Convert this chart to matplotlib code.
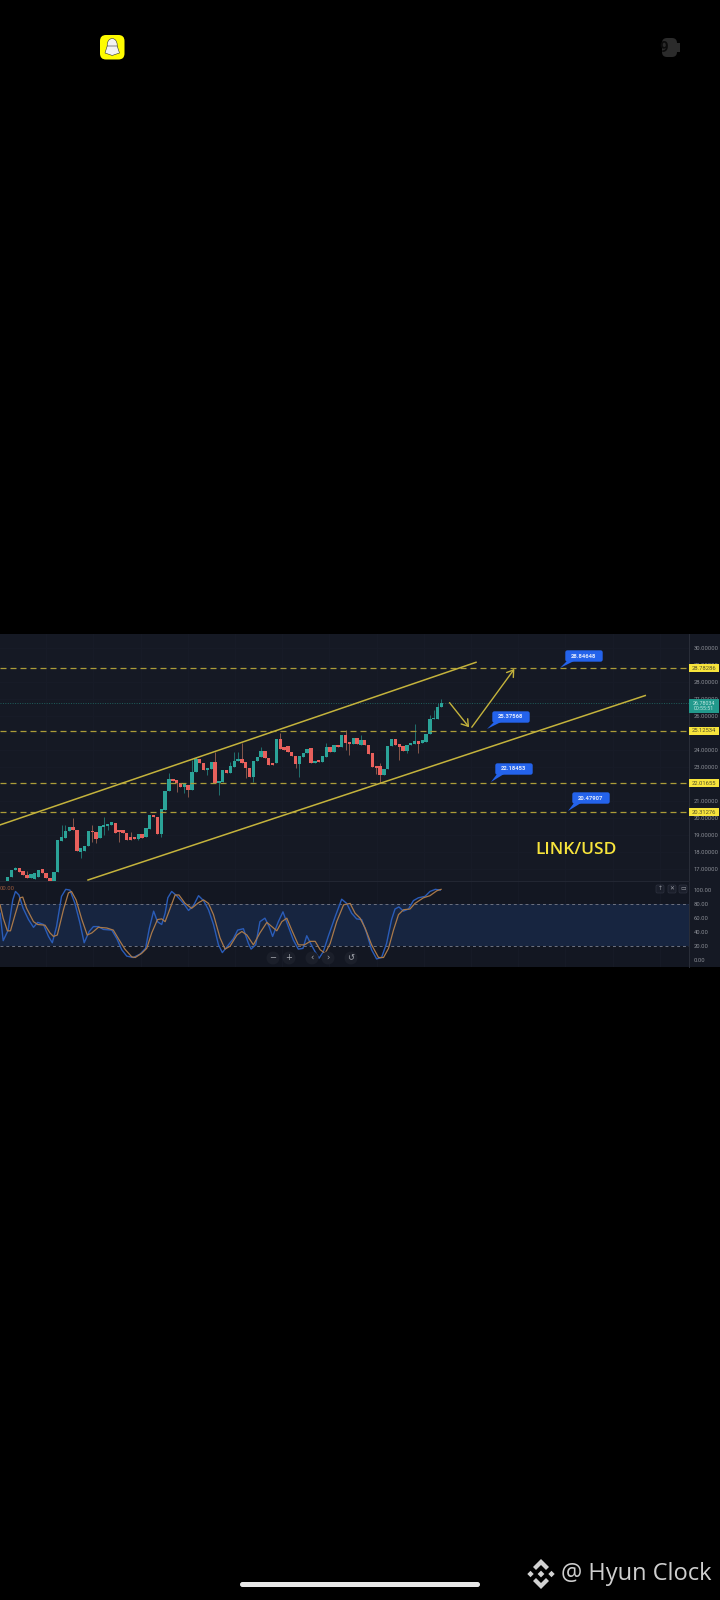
# -*- coding: utf-8 -*-
import numpy as np
import matplotlib
matplotlib.use('Agg')
import matplotlib.pyplot as plt
from matplotlib.patches import Rectangle, FancyBboxPatch, Polygon, Ellipse, Circle

plt.rcParams['font.family'] = ['Roboto', 'DejaVu Sans']

# LINK/USD candles
opens = [16.27, 16.53, 16.92, 17.04, 16.86, 16.65, 16.43, 16.39, 16.49, 16.96, 16.76, 16.47, 16.29, 16.80,
         18.65, 18.81, 19.24, 19.44, 19.28, 18.00, 18.06, 18.34, 19.24, 19.16, 18.79, 19.48, 19.52, 19.60,
         19.71, 19.28, 19.28, 19.12, 18.85, 18.85, 18.75, 19.04, 18.85, 19.34, 20.17, 20.07, 19.04, 20.46,
         21.60, 22.29, 22.23, 22.07, 21.84, 21.94, 21.64, 22.72, 23.47, 23.25, 22.82, 22.88, 23.27, 22.03,
         22.09, 22.82, 22.62, 23.02, 23.33, 23.49, 23.31, 22.94, 22.43, 23.33, 23.57, 23.94, 23.51, 23.25,
         23.21, 24.67, 24.20, 24.24, 23.90, 23.67, 23.17, 23.61, 23.84, 24.10, 23.25, 23.39, 23.31, 23.61,
         24.20, 23.88, 24.28, 24.20, 24.87, 24.47, 24.35, 24.73, 24.32, 24.59, 24.32, 23.80, 23.06, 23.06,
         22.55, 22.90, 24.24, 24.63, 24.35, 24.24, 23.96, 24.32, 24.35, 24.55, 24.39, 24.47, 24.94, 25.83,
         25.85, 26.56]
closes = [16.53, 16.92, 17.04, 16.82, 16.63, 16.45, 16.69, 16.73, 16.92, 16.72, 16.43, 16.29, 16.80, 18.69,
          18.85, 19.24, 19.48, 19.28, 18.04, 18.20, 18.34, 19.24, 19.14, 18.77, 19.52, 19.58, 19.63, 19.73,
          19.12, 19.14, 19.08, 18.69, 18.69, 18.73, 19.04, 18.81, 19.38, 20.17, 20.03, 19.04, 20.50, 21.60,
          22.31, 22.15, 22.03, 21.80, 22.03, 21.64, 22.72, 23.47, 23.21, 22.82, 22.92, 23.29, 22.03, 22.17,
          22.82, 22.62, 23.06, 23.37, 23.49, 23.25, 22.92, 22.43, 23.35, 23.61, 23.92, 23.51, 23.12, 23.10,
          24.67, 24.04, 24.00, 23.88, 23.65, 23.17, 23.65, 23.84, 24.08, 23.25, 23.37, 23.29, 23.65, 24.20,
          23.88, 24.28, 24.20, 24.87, 24.43, 24.35, 24.73, 24.34, 24.59, 24.30, 23.76, 22.98, 22.94, 22.55,
          22.90, 24.24, 24.63, 24.32, 24.20, 23.96, 24.32, 24.43, 24.51, 24.35, 24.59, 24.94, 25.85, 25.89,
          26.52, 26.79]
high_bars = [2, 5, 14, 15, 17, 22, 25, 32, 42, 48, 49, 54, 58, 59, 60, 61, 66, 71, 83, 88, 92, 97, 106, 110, 111, 112, 113]
high_vals = [17.12, 16.88, 19.58, 19.58, 19.97, 19.58, 20.03, 19.18, 22.66, 23.41, 23.61, 23.90, 23.31, 23.90, 23.90,
             24.43, 24.20, 25.02, 24.39, 25.18, 24.89, 23.21, 25.53, 26.07, 26.36, 26.75, 26.99]
low_bars = [19, 22, 23, 25, 26, 29, 34, 40, 44, 46, 47, 52, 55, 62, 64, 75, 76, 88, 89, 96, 97, 102, 104, 107]
low_vals = [17.61, 18.59, 18.49, 18.99, 19.28, 18.59, 18.69, 18.85, 21.54, 21.44, 21.25, 22.53, 21.35, 22.33, 22.13,
            22.92, 22.43, 24.00, 23.71, 22.58, 22.03, 23.41, 23.80, 23.80]

# horizontal levels and their axis labels
levels = [28.82, 25.12, 22.03, 20.34]
level_labels = ['28.78286', '25.12534', '22.01655', '20.31276']
last_price = 26.79
last_labels = '26.78034\n00:55:51'
price_ticks = list(range(17, 31))

# drawn trend lines, bar / price
upper_bars = [-2.0, 122.0]
upper_prices = [19.58, 29.17]
lower_bars = [20.9, 166.1]
lower_prices = [16.33, 27.21]
arrow_bars = [115.1, 120.2, 120.9, 132.0]
arrow_prices = [26.79, 25.34, 25.34, 28.78]

callout_texts = ['28.84648', '25.37568', '22.18453', '20.47907']

# stochastic pane
k_bars = [-2.0, -1.2, 0.1, 1.3, 2.0, 2.9, 4.0, 5.4, 6.7, 7.8, 9.3, 10.6, 11.6, 12.7, 14.0, 15.1, 16.2, 17.5, 18.8, 19.9,
          21.2, 22.3, 23.6, 24.9, 27.1, 28.4, 29.7, 31.0, 32.7, 34.5, 35.9, 36.9, 38.0, 39.0, 40.1, 41.0, 41.7, 42.7,
          44.0, 45.8, 47.1, 48.4, 49.7, 51.0, 52.3, 53.6, 54.9, 55.9, 57.5, 58.8, 59.9, 61.4, 62.7, 63.4, 64.6, 65.7,
          67.0, 68.1, 69.0, 70.5, 71.7, 72.9, 74.4, 75.7, 76.9, 77.9, 78.9, 80.1, 81.1, 82.2, 83.5, 85.3, 87.0, 88.3,
          89.6, 90.9, 92.2, 93.5, 94.8, 96.1, 97.4, 98.7, 100.0, 100.9, 101.9, 103.1, 104.4, 105.7, 107.0, 108.7,
          110.0, 111.4, 112.7]
k_vals = [67, 28, 43, 86, 98, 93, 74, 58, 47, 54, 51, 34, 25, 48, 91, 101, 100, 81, 53, 25,
          41, 48, 48, 44, 43, 31, 15, 6, 4, 9, 17, 46, 70, 55, 51, 67, 89, 98,
          92, 81, 71, 78, 92, 85, 72, 51, 22, 11, 22, 31, 43, 45, 24, 16, 22, 55,
          60, 48, 34, 55, 69, 51, 29, 16, 17, 35, 24, 12, 3, 12, 34, 62, 87, 81,
          67, 59, 58, 39, 15, 2, 4, 24, 58, 73, 76, 70, 73, 85, 89, 91,
          98, 101, 100]
d_bars = [-2.0, -1.2, -0.1, 0.7, 1.9, 3.2, 3.9, 4.9, 6.7, 7.8, 9.7, 11.0, 11.9, 12.9, 14.5, 15.8, 16.6, 17.8, 19.3, 20.7,
          21.9, 23.6, 25.8, 27.5, 28.8, 30.5, 32.3, 33.2, 34.9, 36.2, 37.5, 39.0, 40.1, 41.0, 42.3, 43.6, 44.6, 46.2,
          47.9, 49.7, 51.0, 52.3, 53.6, 55.3, 56.6, 57.9, 59.7, 61.0, 62.3, 64.0, 65.7, 67.5, 68.8, 70.1, 71.4, 72.7,
          74.0, 75.7, 77.3, 78.8, 80.1, 81.4, 82.7, 84.0, 85.7, 87.5, 89.2, 90.5, 91.8, 93.1, 94.8, 96.6, 97.9, 99.2,
          100.5, 101.8, 103.1, 104.8, 106.1, 108.3, 110.0, 111.8, 112.9]
d_vals = [79, 60, 42, 42, 65, 89, 90, 74, 55, 51, 50, 39, 34, 36, 72, 96, 98, 86, 58, 36,
          39, 47, 46, 43, 31, 16, 5, 4, 10, 17, 39, 58, 59, 55, 74, 93, 93, 81,
          74, 82, 86, 81, 65, 32, 16, 20, 36, 41, 36, 22, 39, 54, 48, 42, 55, 60,
          43, 22, 22, 27, 27, 15, 10, 24, 55, 79, 81, 67, 60, 46, 22, 4, 4, 17,
          43, 65, 72, 73, 81, 89, 92, 99, 101]
osc_ticks = [0, 20, 40, 60, 80, 100]

PANEL = '#151924'
GRID = '#181c28'
TEAL = '#2ba398'
RED = '#e8605c'
YELLOW = '#f7e43c'
LINE = '#c4b33c'
BLUE = '#2463eb'
AXTEXT = '#8a8d95'

W, H = 720, 1600
fig = plt.figure(figsize=(W / 100, H / 100), dpi=100, facecolor='black')


def px_axes(x0, y0, x1, y1, **kw):
    return fig.add_axes([x0 / W, 1 - y1 / H, (x1 - x0) / W, (y1 - y0) / H], **kw)


# pixel canvas for the screenshot parts
bg = px_axes(0, 0, W, H)
bg.set_xlim(0, W)
bg.set_ylim(H, 0)
bg.axis('off')
bg.set_zorder(0)
bg.add_patch(Rectangle((0, 634), W, 333, color=PANEL, lw=0))

# price pane
ax = px_axes(0, 634, 689, 881, facecolor=PANEL)
ax.set_zorder(1)
ax.set_xlim(-2.03, 177.5)
ax.set_ylim(16.27, 30.84)
ax.set_xticks(np.arange(10, 178, 12.3))
ax.set_yticks(price_ticks)
ax.yaxis.tick_right()
ax.yaxis.set_major_formatter(lambda v, pos: f'{v:.5f}')
ax.tick_params(axis='y', length=0, pad=3.5, labelsize=4.2, labelcolor=AXTEXT)
ax.tick_params(axis='x', length=0, labelbottom=False)
ax.grid(True, color=GRID, linewidth=0.6)
ax.set_axisbelow(True)
for name, spine in ax.spines.items():
    spine.set_visible(False)
ax.spines['right'].set_visible(True)
ax.spines['right'].set_color('#2a2e39')
ax.spines['right'].set_linewidth(0.7)

bars = np.arange(len(opens))
o = np.array(opens)
c = np.array(closes)
highs = np.maximum(o, c)
lows = np.minimum(o, c)
highs[high_bars] = high_vals
lows[low_bars] = low_vals
rising = c >= o
ax.vlines(bars[rising], lows[rising], highs[rising], color='#21706e', linewidth=0.7, zorder=3)
ax.vlines(bars[~rising], lows[~rising], highs[~rising], color='#86574c', linewidth=0.7, zorder=3)
ax.bar(bars, np.abs(c - o), bottom=np.minimum(o, c), width=0.88,
       color=[TEAL if r else RED for r in rising], linewidth=0, zorder=4)

ax.axhline(last_price, color='#1f5f5c', linewidth=0.7, linestyle=(0, (1, 1.5)), zorder=2)
for lev, lab in zip(levels, level_labels):
    ax.axhline(lev, color='#ac9c38', linewidth=0.9, linestyle=(0, (4.8, 3.2)), zorder=5)
    ax.add_patch(Rectangle((1.0, lev - 0.23), 30 / 689, 0.46, transform=ax.get_yaxis_transform(),
                           color=YELLOW, lw=0, clip_on=False, zorder=6))
    ax.text(1.0 + 15 / 689, lev, lab, transform=ax.get_yaxis_transform(), fontsize=4.2, color='#55502a',
            ha='center', va='center', zorder=7, clip_on=False)
ax.add_patch(Rectangle((1.0, last_price - 0.6), 30 / 689, 0.82, transform=ax.get_yaxis_transform(),
                       color='#22998c', lw=0, clip_on=False, zorder=6))
ax.text(1.0 + 15 / 689, last_price - 0.19, last_labels, transform=ax.get_yaxis_transform(), fontsize=3.9,
        color='#bfe6e0', ha='center', va='center', zorder=7, clip_on=False, linespacing=1.1)

ax.plot(upper_bars, upper_prices, color=LINE, linewidth=1.1, zorder=5)
ax.plot(lower_bars, lower_prices, color=LINE, linewidth=1.1, zorder=5)
for i in (0, 2):
    ax.annotate('', xy=(arrow_bars[i + 1], arrow_prices[i + 1]), xytext=(arrow_bars[i], arrow_prices[i]),
                arrowprops=dict(arrowstyle='->,head_length=0.45,head_width=0.3', color=LINE, lw=1.0,
                                shrinkA=0, shrinkB=0), zorder=5)

# stochastic pane
osc = px_axes(0, 881, 689, 967, facecolor='#131722')
osc.set_zorder(1)
osc.set_xlim(-2.03, 177.5)
osc.set_ylim(-9.5, 112.9)
osc.axhspan(20, 80, color='#172540', lw=0, zorder=1)
osc.axhline(80, color='#6d7280', linewidth=0.7, linestyle=(0, (3, 3)), zorder=2)
osc.axhline(20, color='#6d7280', linewidth=0.7, linestyle=(0, (3, 3)), zorder=2)
osc.plot(k_bars, k_vals, color='#2a5cb8', linewidth=1.0, zorder=3, solid_joinstyle='round')
osc.plot(d_bars, d_vals, color='#a9794a', linewidth=0.9, zorder=4, solid_joinstyle='round')
osc.set_xticks(np.arange(10, 178, 12.3))
osc.tick_params(axis='x', length=0, labelbottom=False)
osc.grid(True, axis='x', color=GRID, linewidth=0.5)
osc.set_axisbelow(True)
osc.set_yticks(osc_ticks)
osc.yaxis.tick_right()
osc.yaxis.set_major_formatter(lambda v, pos: f'{v:.2f}')
osc.tick_params(axis='y', length=0, pad=3.5, labelsize=4.2, labelcolor=AXTEXT)
for name, spine in osc.spines.items():
    spine.set_visible(False)
osc.spines['right'].set_visible(True)
osc.spines['right'].set_color('#2a2e39')
osc.spines['right'].set_linewidth(0.7)
osc.spines['top'].set_visible(True)
osc.spines['top'].set_color('#232733')
osc.spines['top'].set_linewidth(0.7)

# overlay: callouts, title, pane buttons
top = px_axes(0, 0, W, H)
top.set_xlim(0, W)
top.set_ylim(H, 0)
top.axis('off')
top.patch.set_alpha(0)
top.set_zorder(3)

callout_boxes = [(565, 650), (492, 711), (495, 763), (572, 792)]
callout_tips = [(560, 668), (487, 729), (491, 782), (568, 811)]
for (bx, by), (tx, ty), txt in zip(callout_boxes, callout_tips, callout_texts):
    top.add_patch(FancyBboxPatch((bx + 1, by + 1), 36, 10, boxstyle='round,pad=0,rounding_size=1.5',
                                 mutation_scale=1, facecolor=BLUE, edgecolor=BLUE, linewidth=1))
    top.add_patch(Polygon([(tx, ty), (bx + 2, by + 11), (bx + 9, by + 11)], closed=True, facecolor=BLUE, lw=0))
    top.text(bx + 19, by + 6, txt, color='#dfe7fb', fontsize=4.2, fontweight='bold', ha='center', va='center')

top.text(576, 850, 'LINK/USD', color=YELLOW, fontsize=12.5, fontfamily='Open Sans', fontweight='semibold',
         ha='center', va='center')
top.text(0, 889, '00.00', color='#9a5a3c', fontsize=4.2, va='center', ha='left')

for bx, glyph in zip([660, 672, 683], ['↑', '✕', '▭']):
    top.add_patch(FancyBboxPatch((bx - 4, 885), 8, 8, boxstyle='round,pad=0,rounding_size=1.5', mutation_scale=1,
                                 facecolor='#1b1f2b', edgecolor='#2f3340', linewidth=0.5))
    top.text(bx, 889, glyph, color='#9a9da5', fontsize=4.2, ha='center', va='center',
             fontfamily='DejaVu Sans')

for bx, glyph in zip([273, 289, 312, 328, 351], ['−', '+', '‹', '›', '↺']):
    top.add_patch(Circle((bx, 958), 6.5, facecolor='#1b1f2a', edgecolor='none'))
    top.text(bx, 958, glyph, color='#a9acb3', fontsize=6, ha='center', va='center',
             fontfamily='DejaVu Sans')

# snapchat icon
top.add_patch(FancyBboxPatch((100, 35), 24.5, 24.5, boxstyle='round,pad=0,rounding_size=6', mutation_scale=1,
                             facecolor='#fffc00', edgecolor='none'))
top.add_patch(Ellipse((112.2, 45), 10, 13, facecolor='#f2f2f2', edgecolor='#333333', linewidth=0.4))
top.add_patch(Polygon([(107.2, 46), (117.2, 46), (119.5, 53), (115, 54.5), (112.2, 55.5), (109.4, 54.5), (105, 53)],
                      closed=True, facecolor='#f2f2f2', edgecolor='#333333', linewidth=0.4))

# battery remains
top.add_patch(FancyBboxPatch((662, 38), 15, 19, boxstyle='round,pad=0,rounding_size=5', mutation_scale=1,
                             facecolor='#2b2b2b', edgecolor='none'))
top.add_patch(Rectangle((677, 43), 2.5, 9, color='#2b2b2b', lw=0))
top.text(664, 47.5, '9', color='#0c0c0c', fontsize=11, fontweight='bold', ha='center', va='center')


# watermark logo
def diamond(cx, cy, s, color):
    top.add_patch(Polygon([(cx, cy - s), (cx + s, cy), (cx, cy + s), (cx - s, cy)], closed=True,
                          facecolor=color, lw=0))


diamond(541, 1567, 8, '#d2d2d2')
diamond(541, 1581, 8, '#d2d2d2')
diamond(541, 1570.5, 5.5, 'black')
diamond(541, 1577.5, 5.5, 'black')
diamond(541, 1574, 3.4, '#d2d2d2')
diamond(530.5, 1574, 3.2, '#d2d2d2')
diamond(551.5, 1574, 3.2, '#d2d2d2')

top.text(561, 1574, '@ Hyun Clock', color='#cfcfcf', fontsize=17, fontfamily='Open Sans', va='center', ha='left')
top.add_patch(FancyBboxPatch((240, 1582), 240, 5, boxstyle='round,pad=0,rounding_size=2.5', mutation_scale=1,
                             facecolor='#e8e8e8', edgecolor='none'))

fig.savefig('out.png', dpi=100, facecolor='black')
